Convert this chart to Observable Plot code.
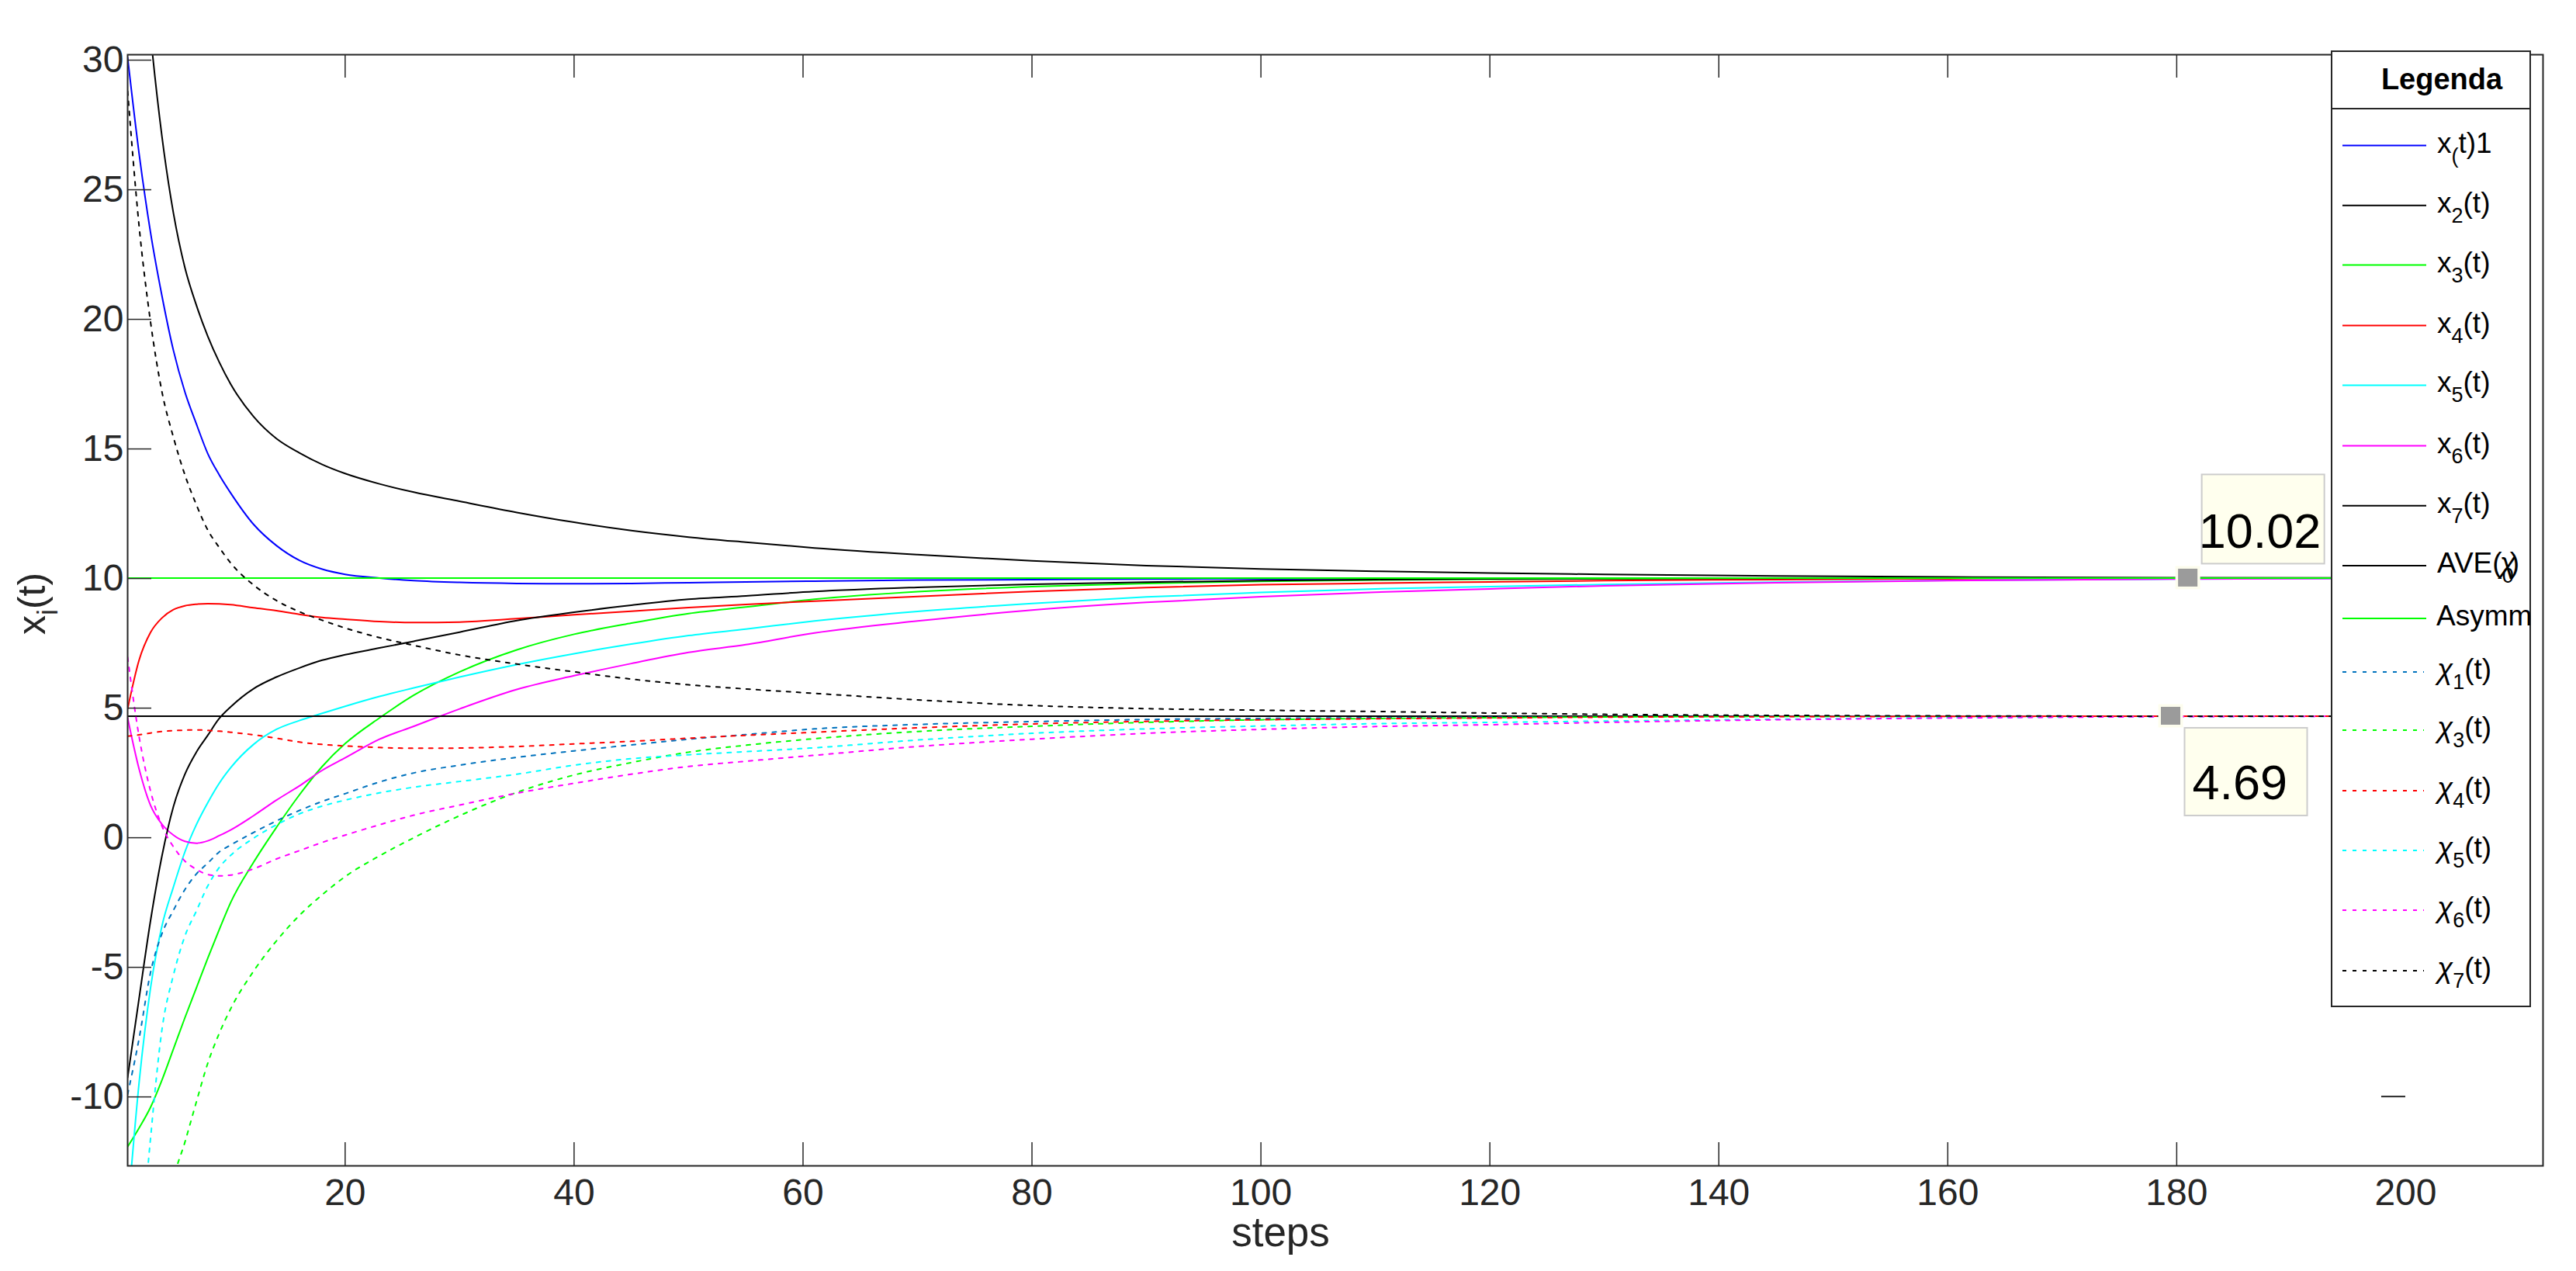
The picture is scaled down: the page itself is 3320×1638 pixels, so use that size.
<!DOCTYPE html>
<html>
<head>
<meta charset="utf-8">
<script src="https://cdn.jsdelivr.net/npm/d3@7"></script>
<script src="https://cdn.jsdelivr.net/npm/@observablehq/plot@0.6"></script>
<style>
html, body { margin: 0; padding: 0; background: #ffffff; }
#chart svg { display: block; }
</style>
</head>
<body>
<div id="chart"></div>
<script>
// ---------------- data ----------------
const steps = [1,2,3,4,5,6,7,8,9,10,12,14,16,18,20,23,26,30,35,40,45,50,55,61,70,80,90,100,110,120,130,145,160,180,200];

const x1 = [30.1,26.4,23.35,20.9,18.8,17.2,15.97,14.82,14.0,13.3,12.09,11.27,10.7,10.36,10.16,10.02,9.92,9.85,9.81,9.8,9.81,9.84,9.87,9.9,9.94,9.96,9.98,9.99,10.0,10.01,10.01,10.02,10.02,10.02,10.02];
const x2 = [44,36,31.0,27.05,24.1,22.0,20.55,19.35,18.35,17.5,16.25,15.4,14.85,14.4,14.05,13.65,13.33,12.98,12.55,12.17,11.85,11.6,11.4,11.18,10.92,10.68,10.5,10.37,10.28,10.21,10.16,10.1,10.06,10.03,10.02];
const x3 = [-11.92,-11.2,-10.4,-9.35,-8.15,-6.95,-5.8,-4.65,-3.55,-2.5,-0.95,0.4,1.65,2.75,3.63,4.62,5.5,6.4,7.25,7.85,8.28,8.65,8.9,9.2,9.49,9.69,9.81,9.89,9.94,9.97,9.99,10.01,10.02,10.02,10.02];
const x4 = [4.97,6.85,7.92,8.48,8.8,8.95,9.01,9.03,9.02,8.99,8.87,8.76,8.62,8.5,8.43,8.34,8.3,8.32,8.45,8.6,8.74,8.88,9.0,9.13,9.31,9.5,9.65,9.76,9.82,9.87,9.92,9.96,9.99,10.01,10.02];
const x5 = [-14.5,-9.45,-5.8,-3.4,-1.9,-0.55,0.5,1.35,2.1,2.7,3.6,4.18,4.52,4.8,5.07,5.45,5.78,6.2,6.68,7.1,7.47,7.8,8.05,8.36,8.73,9.04,9.29,9.46,9.6,9.69,9.77,9.86,9.93,9.98,10.01];
const x6 = [4.62,2.65,1.25,0.52,0.1,-0.14,-0.21,-0.12,0.08,0.3,0.85,1.45,2.0,2.6,3.08,3.8,4.3,4.97,5.72,6.25,6.72,7.15,7.45,7.9,8.36,8.78,9.08,9.3,9.47,9.6,9.72,9.84,9.92,9.98,10.01];
const x7 = [-9.25,-6.2,-3.2,-0.7,1.2,2.45,3.3,3.95,4.6,5.05,5.75,6.2,6.55,6.85,7.06,7.32,7.58,7.93,8.38,8.7,8.97,9.2,9.33,9.5,9.66,9.78,9.86,9.92,9.96,9.99,10.0,10.01,10.02,10.02,10.02];

const chi1 = [-9.9,-7.75,-5.2,-3.7,-2.8,-2.0,-1.4,-0.98,-0.55,-0.28,0.2,0.65,1.05,1.4,1.7,2.15,2.5,2.8,3.1,3.35,3.58,3.8,3.98,4.2,4.37,4.48,4.56,4.6,4.63,4.65,4.66,4.68,4.69,4.69,4.69];
const chi3 = [-28,-23,-19,-15.8,-13.2,-11.75,-10.2,-8.7,-7.55,-6.6,-5.15,-3.98,-3.0,-2.2,-1.5,-0.7,0.0,0.85,1.75,2.42,2.9,3.3,3.57,3.82,4.1,4.3,4.45,4.55,4.6,4.63,4.66,4.68,4.69,4.69,4.69];
const chi4 = [3.92,3.97,4.04,4.1,4.13,4.15,4.16,4.14,4.11,4.07,3.97,3.84,3.69,3.6,3.54,3.48,3.45,3.46,3.52,3.62,3.72,3.84,3.95,4.07,4.24,4.39,4.49,4.55,4.59,4.62,4.65,4.67,4.68,4.69,4.69];
const chi5 = [-23,-16.8,-11.6,-7.4,-5.3,-3.8,-2.83,-1.86,-1.15,-0.68,-0.02,0.5,0.92,1.22,1.45,1.73,1.95,2.17,2.45,2.8,3.05,3.2,3.32,3.47,3.77,4.03,4.2,4.31,4.4,4.45,4.5,4.57,4.63,4.67,4.69];
const chi6 = [6.96,3.9,1.8,0.45,-0.35,-0.9,-1.22,-1.42,-1.47,-1.44,-1.2,-0.82,-0.5,-0.18,0.1,0.5,0.87,1.26,1.72,2.1,2.45,2.75,2.95,3.18,3.52,3.8,4.03,4.18,4.29,4.36,4.45,4.55,4.62,4.67,4.69];
const chi7 = [28.8,23.6,19.9,17.2,15.45,14.0,12.85,11.87,11.2,10.6,9.75,9.15,8.72,8.39,8.09,7.72,7.42,7.05,6.7,6.4,6.12,5.9,5.74,5.57,5.32,5.1,4.98,4.92,4.87,4.81,4.76,4.72,4.7,4.69,4.69];

const refSteps = [1, 200];
const aveValue = 4.69;
const asymmValue = 10.02;

const xTickLabels = [20,40,60,80,100,120,140,160,180,200];
const xTickMarks = [20,40,60,80,100,120,140,160,180];
const yTicks = [-10,-5,0,5,10,15,20,25,30];

const tipSteps = [181, 179.5];
const tipValues = [10.02, 4.69];
const tipTexts = ["10.02", "4.69"];

const strayTickSteps = [200];
const strayTickValues = [-10];

const xLabelText = "steps";
const legendTitle = "Legenda";
// legend label pieces: [text, kind]  n = normal, s = subscript, i = italic
const legendLabels = [
  [["x","n"],["(","s"],["t)1","n"]],
  [["x","n"],["2","s"],["(t)","n"]],
  [["x","n"],["3","s"],["(t)","n"]],
  [["x","n"],["4","s"],["(t)","n"]],
  [["x","n"],["5","s"],["(t)","n"]],
  [["x","n"],["6","s"],["(t)","n"]],
  [["x","n"],["7","s"],["(t)","n"]],
  [["AVE(","n"],["χ","i"],["0","s"],[")","n"]],
  [["Asymm","n"]],
  [["χ","i"],["1","s"],["(t)","n"]],
  [["χ","i"],["3","s"],["(t)","n"]],
  [["χ","i"],["4","s"],["(t)","n"]],
  [["χ","i"],["5","s"],["(t)","n"]],
  [["χ","i"],["6","s"],["(t)","n"]],
  [["χ","i"],["7","s"],["(t)","n"]]
];

// ---------------- series table ----------------
const seriesDefs = [
  {values: x1, color: "#0000ff", dotted: false},
  {values: x2, color: "#000000", dotted: false},
  {values: x3, color: "#00ff00", dotted: false},
  {values: x4, color: "#ff0000", dotted: false},
  {values: x5, color: "#00ffff", dotted: false},
  {values: x6, color: "#ff00ff", dotted: false},
  {values: x7, color: "#000000", dotted: false},
  {values: null, ref: aveValue, color: "#000000", dotted: false},
  {values: null, ref: asymmValue, color: "#00ff00", dotted: false},
  {values: chi1, color: "#0072bd", dotted: true},
  {values: chi3, color: "#00ff00", dotted: true},
  {values: chi4, color: "#ff0000", dotted: true},
  {values: chi5, color: "#00ffff", dotted: true},
  {values: chi6, color: "#ff00ff", dotted: true},
  {values: chi7, color: "#000000", dotted: true}
];
const DASH = "5,8";

const W = 3320, H = 1638, mL = 164, mR = 43, mT = 70, mB = 136;
const plotW = W - mL - mR, plotH = H - mT - mB;
const AXIS = "#262626";
const FONT = "'Liberation Sans', Arial, Helvetica, sans-serif";

const lineMarks = seriesDefs.map(s => {
  const data = s.values
    ? steps.map((t, i) => ({step: t, value: s.values[i]}))
    : refSteps.map(t => ({step: t, value: s.ref}));
  return Plot.line(data, {
    x: "step", y: "value", stroke: s.color, strokeWidth: 2,
    strokeDasharray: s.dotted ? DASH : null,
    curve: "monotone-x", clip: true
  });
});

function addParts(textSel, parts, subSize, subShift) {
  let down = false;
  parts.forEach(([t, kind]) => {
    const ts = textSel.append("tspan").text(t);
    if (kind === "s") {
      ts.attr("font-size", subSize).attr("font-style", "normal");
      if (!down) { ts.attr("dy", subShift); down = true; }
    } else {
      if (down) { ts.attr("dy", -subShift); down = false; }
      if (kind === "i") ts.attr("font-style", "italic");
    }
  });
}

// axis titles + stray tick
function labelsMark(index, scales, values, dims) {
  const g = d3.create("svg:g").attr("font-family", FONT).attr("text-anchor", "middle");
  const cxFrame = dims.marginLeft + (dims.width - dims.marginLeft - dims.marginRight) / 2;
  g.append("text").attr("x", cxFrame - 70).attr("y", 1606)
    .attr("text-anchor", "middle").attr("font-size", 53).attr("fill", AXIS).text(xLabelText);
  const yl = g.append("text").attr("transform", "translate(58,778) rotate(-90)")
    .attr("text-anchor", "middle").attr("font-size", 50).attr("fill", AXIS);
  addParts(yl, [["x","n"],["i","s"],["(t)","n"]], 36, 16);
  strayTickSteps.forEach((s, i) => {
    const xr = scales.x(s), yv = scales.y(strayTickValues[i]);
    g.append("line").attr("x1", xr - 31).attr("x2", xr).attr("y1", yv).attr("y2", yv)
      .attr("stroke", AXIS).attr("stroke-width", 2);
  });
  return g.node();
}

// data tips
function tipsMark(index, scales) {
  const g = d3.create("svg:g").attr("font-family", FONT).attr("text-anchor", "start");
  tipSteps.forEach((s, i) => {
    const cx = scales.x(s), cy = scales.y(tipValues[i]);
    const above = i === 0;
    const bx = cx + 18, by = above ? cy - 133 : cy + 15.5;
    g.append("rect").attr("x", bx).attr("y", by).attr("width", 158).attr("height", above ? 115 : 113)
      .attr("fill", "#ffffee").attr("stroke", "#cccccc").attr("stroke-width", 2);
    g.append("text").attr("x", above ? cx + 14 : cx + 28).attr("y", above ? cy - 38 : cy + 108)
      .attr("text-anchor", "start").attr("font-size", 63).attr("fill", "#000").text(tipTexts[i]);
    g.append("rect").attr("x", cx - 16).attr("y", cy - 15).attr("width", 32).attr("height", 30).attr("fill", "#fdfdee");
    g.append("rect").attr("x", cx - 12.5).attr("y", cy - 11.5).attr("width", 25).attr("height", 23).attr("fill", "#9b9b9b");
  });
  return g.node();
}

// legend box
function legendMark() {
  const g = d3.create("svg:g").attr("font-family", FONT).attr("text-anchor", "start");
  const L = {x0: 3005, x1: 3261, y0: 66, y1: 1297, head: 140};
  const rowY = [187.5, 264.7, 341.5, 419.6, 496.4, 574.5, 651.8, 729, 797, 866, 941, 1019, 1096, 1173, 1251];
  g.append("rect").attr("x", L.x0).attr("y", L.y0).attr("width", L.x1 - L.x0).attr("height", L.y1 - L.y0)
    .attr("fill", "#ffffff").attr("stroke", AXIS).attr("stroke-width", 2);
  g.append("line").attr("x1", L.x0).attr("x2", L.x1).attr("y1", L.head).attr("y2", L.head)
    .attr("stroke", AXIS).attr("stroke-width", 2);
  g.append("text").attr("x", 3147).attr("y", 115).attr("text-anchor", "middle")
    .attr("font-size", 38).attr("font-weight", "bold").attr("fill", "#000").text(legendTitle);
  seriesDefs.forEach((s, i) => {
    const y = rowY[i];
    g.append("line").attr("x1", 3019).attr("x2", s.dotted ? 3124 : 3127).attr("y1", y).attr("y2", y)
      .attr("stroke", s.color).attr("stroke-width", 2).attr("stroke-dasharray", s.dotted ? DASH : null);
    const parts = legendLabels[i];
    if (i === 7) {
      // AVE(χ0) with the overlapping glyphs of the original
      const t = g.append("text").attr("x", 3141).attr("y", y + 9).attr("text-anchor", "start")
        .attr("font-size", 37).attr("fill", "#000");
      t.append("tspan").text(parts[0][0]);
      t.append("tspan").attr("font-style", "italic").attr("dx", -3).text(parts[1][0]);
      t.append("tspan").attr("font-size", 27).attr("dx", -17).attr("dy", 13).text(parts[2][0]);
      t.append("tspan").attr("dx", -5).attr("dy", -13).text(parts[3][0]);
    } else {
      const t = g.append("text").attr("x", i === 8 ? 3140 : 3141).attr("y", y + 9).attr("text-anchor", "start")
        .attr("font-size", 37).attr("fill", "#000");
      addParts(t, parts, 27, 13);
    }
  });
  return g.node();
}

const chart = Plot.plot({
  width: W, height: H,
  marginLeft: mL, marginRight: mR, marginTop: mT, marginBottom: mB,
  x: {domain: [1, 212]},
  y: {domain: [-12.66, 30.21]},
  style: {fontFamily: FONT, background: "#ffffff", color: AXIS, overflow: "visible"},
  marks: [
    ...lineMarks,
    Plot.tickX(xTickMarks, {x: d => d, insetTop: plotH - 30, stroke: AXIS, strokeWidth: 1.5}),
    Plot.tickX(xTickMarks, {x: d => d, insetBottom: plotH - 30, stroke: AXIS, strokeWidth: 1.5}),
    Plot.tickY(yTicks, {y: d => d, insetRight: plotW - 31, stroke: AXIS, strokeWidth: 1.5}),
    Plot.frame({stroke: AXIS, strokeWidth: 2}),
    Plot.axisX(xTickLabels, {tickSize: 0, tickPadding: 16, fontSize: 48, tickFormat: d => String(d), label: null, fill: AXIS}),
    Plot.axisY(yTicks, {tickSize: 0, tickPadding: 5, fontSize: 48, tickFormat: d => String(d), label: null, fill: AXIS}),
    labelsMark,
    tipsMark,
    legendMark
  ]
});
document.getElementById("chart").appendChild(chart);
</script>
</body>
</html>
